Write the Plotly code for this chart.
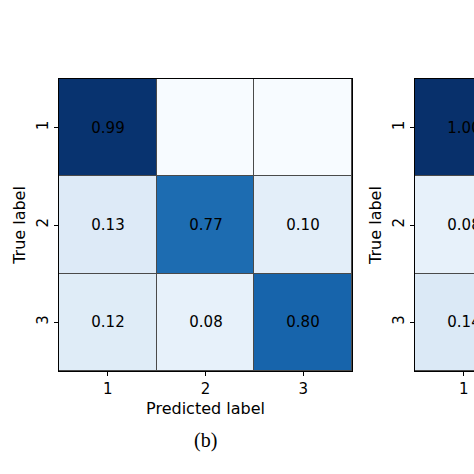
import plotly.graph_objects as go

classes = [1, 2, 3]
tick_labels = ["1", "2", "3"]
# panel (b): rows = true label, cols = predicted label
cm_b = [
    [0.99, 0.00, 0.00],
    [0.13, 0.77, 0.10],
    [0.12, 0.08, 0.80],
]
# next panel (cut off at the right edge): only first column visible
cm_c_col1 = [[1.00], [0.08], [0.14]]

blues = ['rgb(247,251,255)', 'rgb(222,235,247)', 'rgb(198,219,239)',
         'rgb(158,202,225)', 'rgb(107,174,214)', 'rgb(66,146,198)',
         'rgb(33,113,181)', 'rgb(8,81,156)', 'rgb(8,48,107)']
cscale = [[i / 8, c] for i, c in enumerate(blues)]


def fmt(m):
    return [["" if v == 0 else f"{v:.2f}" for v in row] for row in m]


W = H = 474
fig = go.Figure()
fig.add_trace(go.Heatmap(
    z=cm_b, x=classes, y=classes, colorscale=cscale, zmin=0, zmax=1,
    showscale=False, text=fmt(cm_b), texttemplate="%{text}",
    textfont=dict(family="DejaVu Sans", size=15, color="black"),
    xgap=1, ygap=1, xaxis="x", yaxis="y", hoverinfo="skip"))
fig.add_trace(go.Heatmap(
    z=cm_c_col1, x=[1], y=classes, colorscale=cscale, zmin=0, zmax=1,
    showscale=False, text=fmt(cm_c_col1), texttemplate="%{text}",
    textfont=dict(family="DejaVu Sans", size=15, color="black"),
    xgap=1, ygap=1, xaxis="x2", yaxis="y2", hoverinfo="skip"))

ydom = [1 - 371 / H, 1 - 79 / H]
axis_common = dict(showgrid=False, zeroline=False, showline=True, mirror=True,
                   linecolor="black", linewidth=1, ticks="outside", ticklen=4,
                   tickcolor="black",
                   tickfont=dict(family="DejaVu Sans", size=15, color="black"))
title_font = dict(family="DejaVu Sans", size=16, color="black")

fig.update_layout(
    width=W, height=H, margin=dict(l=0, r=0, t=0, b=0),
    paper_bgcolor="white", plot_bgcolor="#4a4a4a",
    xaxis=dict(domain=[59 / W, 352 / W], range=[0.5, 3.5], anchor="y",
               tickvals=classes, ticktext=tick_labels,
               title=dict(text="Predicted label", standoff=5, font=title_font),
               **axis_common),
    yaxis=dict(domain=ydom, range=[3.5, 0.5], anchor="x",
               tickvals=classes, ticktext=tick_labels, tickangle=-90,
               title=dict(text="True label", standoff=4, font=title_font),
               **axis_common),
    xaxis2=dict(domain=[415 / W, 1.0], range=[0.5, 0.5 + 59 / 97.7], anchor="y2",
                tickvals=[1], ticktext=["1"], **axis_common),
    yaxis2=dict(domain=ydom, range=[3.5, 0.5], anchor="x2",
                tickvals=classes, ticktext=tick_labels, tickangle=-90,
                title=dict(text="True label", standoff=4, font=title_font),
                **axis_common),
    annotations=[dict(text="(b)", x=205 / W, y=1 - 440 / H, xref="paper", yref="paper",
                      showarrow=False, xanchor="center", yanchor="middle",
                      font=dict(family="Liberation Serif", size=20, color="black"))],
)
fig.write_html("out.html")
